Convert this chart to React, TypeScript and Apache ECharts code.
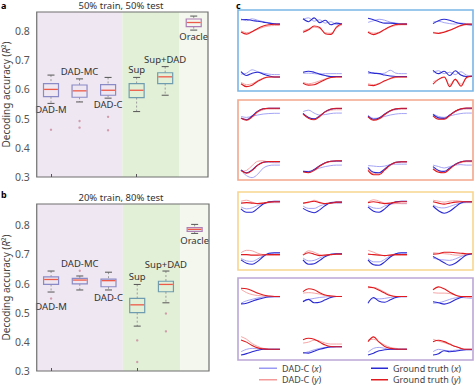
import React, { useEffect, useRef } from 'react';
import * as echarts from 'echarts';

const FONT = '"Noto Sans", "DejaVu Sans", sans-serif';

const categories = ['DAD-M', 'DAD-MC', 'DAD-C', 'Sup', 'Sup+DAD', 'Oracle'];

// [min, Q1, median, Q3, max] — panel a (50% train, 50% test)
const boxesA = [
  [0.552, 0.575, 0.600, 0.620, 0.649],
  [0.557, 0.573, 0.595, 0.615, 0.636],
  [0.570, 0.580, 0.597, 0.616, 0.641],
  [0.524, 0.572, 0.597, 0.620, 0.641],
  [0.580, 0.620, 0.643, 0.657, 0.678],
  [0.803, 0.815, 0.829, 0.841, 0.851],
];
const outliersA = [[0, 0.462], [1, 0.492], [1, 0.469], [2, 0.506], [2, 0.460]];
const labelPosA = [0.531, 0.660, 0.548, 0.668, 0.703, 0.781];

// panel b (20% train, 80% test)
const boxesB = [
  [0.571, 0.597, 0.614, 0.623, 0.643],
  [0.578, 0.599, 0.612, 0.618, 0.626],
  [0.578, 0.589, 0.610, 0.615, 0.639],
  [0.454, 0.500, 0.527, 0.549, 0.597],
  [0.534, 0.572, 0.597, 0.608, 0.643],
  [0.772, 0.779, 0.786, 0.792, 0.803],
];
const outliersB = [[0, 0.549], [1, 0.644], [3, 0.405], [3, 0.331], [4, 0.497], [4, 0.436]];
const labelPosB = [0.520, 0.669, 0.552, 0.623, 0.667, 0.747];

// region spans: [first category, last category, colour index]
const regions = [[0, 2, 0], [3, 4, 1], [5, 5, 2]];

// Panel c traces. Each mini plot: [DAD-C (x), Ground truth (x), DAD-C (y), Ground truth (y)]
const blueFrame = [
  [[0.80,0.72,0.80,0.74,0.68,0.63,0.60,0.60],[0.76,0.77,0.73,0.70,0.66,0.62,0.59,0.58],[0.30,0.22,0.27,0.36,0.45,0.50,0.52,0.52],[0.25,0.16,0.26,0.40,0.50,0.55,0.57,0.57]],
  [[0.78,0.84,0.70,0.76,0.62,0.68,0.56,0.55],[0.80,0.68,0.84,0.64,0.74,0.55,0.62,0.58],[0.30,0.38,0.45,0.40,0.22,0.20,0.42,0.56],[0.24,0.34,0.50,0.44,0.18,0.15,0.45,0.60]],
  [[0.65,0.72,0.78,0.74,0.66,0.62,0.60,0.60],[0.82,0.76,0.68,0.62,0.62,0.60,0.58,0.58],[0.28,0.20,0.24,0.34,0.46,0.52,0.55,0.55],[0.24,0.14,0.22,0.36,0.48,0.56,0.58,0.58]],
  [[0.66,0.70,0.64,0.60,0.58,0.62,0.60,0.58],[0.60,0.72,0.78,0.74,0.66,0.60,0.56,0.54],[0.24,0.22,0.26,0.33,0.42,0.50,0.55,0.56],[0.22,0.19,0.24,0.32,0.42,0.52,0.58,0.58]],
  [[0.62,0.66,0.80,0.72,0.66,0.62,0.60,0.60],[0.72,0.56,0.66,0.70,0.62,0.55,0.50,0.50],[0.28,0.18,0.22,0.35,0.45,0.49,0.50,0.50],[0.22,0.10,0.16,0.32,0.44,0.50,0.50,0.50]],
  [[0.66,0.66,0.64,0.62,0.64,0.64,0.64,0.64],[0.70,0.74,0.70,0.62,0.56,0.52,0.52,0.52],[0.28,0.22,0.26,0.34,0.42,0.48,0.50,0.50],[0.24,0.16,0.18,0.28,0.40,0.48,0.50,0.50]],
  [[0.64,0.66,0.64,0.66,0.78,0.66,0.64,0.64],[0.72,0.66,0.64,0.58,0.54,0.52,0.52,0.52],[0.22,0.18,0.24,0.34,0.42,0.48,0.50,0.50],[0.17,0.14,0.22,0.34,0.44,0.50,0.50,0.50]],
  [[0.70,0.76,0.64,0.70,0.60,0.72,0.58,0.55],[0.78,0.64,0.74,0.56,0.76,0.58,0.52,0.52],[0.30,0.40,0.48,0.18,0.42,0.20,0.45,0.52],[0.20,0.40,0.50,0.10,0.40,0.12,0.48,0.54]],
];
const orangeFrame = [
  [[0.44,0.40,0.45,0.50,0.54,0.56,0.57,0.57],[0.36,0.30,0.46,0.66,0.76,0.78,0.78,0.78],[0.38,0.32,0.44,0.62,0.72,0.75,0.75,0.75],[0.36,0.28,0.42,0.64,0.76,0.78,0.78,0.78]],
  [[0.64,0.70,0.58,0.50,0.52,0.56,0.58,0.58],[0.57,0.40,0.34,0.46,0.64,0.74,0.77,0.77],[0.52,0.38,0.34,0.48,0.62,0.70,0.72,0.72],[0.55,0.36,0.30,0.44,0.64,0.75,0.78,0.78]],
  [[0.48,0.36,0.38,0.44,0.50,0.54,0.56,0.56],[0.46,0.32,0.38,0.54,0.68,0.75,0.77,0.77],[0.44,0.30,0.36,0.52,0.66,0.72,0.74,0.74],[0.42,0.28,0.34,0.52,0.68,0.76,0.78,0.78]],
  [[0.54,0.44,0.40,0.46,0.52,0.56,0.58,0.58],[0.52,0.38,0.36,0.50,0.66,0.75,0.78,0.78],[0.48,0.34,0.34,0.48,0.64,0.72,0.75,0.75],[0.46,0.32,0.32,0.48,0.66,0.76,0.79,0.79]],
  [[0.40,0.18,0.10,0.24,0.50,0.60,0.62,0.62],[0.42,0.30,0.42,0.62,0.74,0.76,0.76,0.76],[0.36,0.40,0.60,0.78,0.80,0.74,0.72,0.72],[0.40,0.28,0.40,0.62,0.74,0.77,0.77,0.77]],
  [[0.36,0.36,0.42,0.50,0.56,0.60,0.62,0.62],[0.36,0.34,0.44,0.60,0.72,0.78,0.79,0.79],[0.34,0.32,0.42,0.58,0.70,0.76,0.77,0.77],[0.34,0.30,0.40,0.58,0.72,0.78,0.80,0.80]],
  [[0.60,0.58,0.56,0.58,0.64,0.66,0.66,0.66],[0.52,0.32,0.30,0.46,0.64,0.74,0.76,0.76],[0.46,0.26,0.26,0.44,0.62,0.72,0.74,0.74],[0.40,0.22,0.22,0.42,0.62,0.74,0.76,0.76]],
  [[0.62,0.56,0.50,0.56,0.62,0.64,0.62,0.62],[0.56,0.40,0.36,0.50,0.66,0.76,0.79,0.79],[0.50,0.36,0.34,0.48,0.64,0.72,0.76,0.76],[0.46,0.32,0.30,0.46,0.64,0.75,0.79,0.79]],
];
const yellowFrame = [
  [[0.46,0.38,0.42,0.52,0.60,0.64,0.64,0.64],[0.38,0.24,0.24,0.40,0.58,0.68,0.70,0.70],[0.70,0.74,0.66,0.60,0.62,0.64,0.66,0.66],[0.62,0.64,0.62,0.60,0.62,0.66,0.68,0.68]],
  [[0.50,0.40,0.40,0.50,0.58,0.62,0.62,0.62],[0.40,0.28,0.22,0.34,0.52,0.64,0.66,0.66],[0.60,0.64,0.74,0.66,0.60,0.62,0.64,0.64],[0.62,0.66,0.70,0.64,0.60,0.62,0.66,0.66]],
  [[0.52,0.42,0.40,0.50,0.58,0.62,0.60,0.60],[0.46,0.28,0.24,0.38,0.58,0.68,0.70,0.70],[0.66,0.76,0.70,0.62,0.58,0.60,0.60,0.60],[0.64,0.68,0.64,0.60,0.62,0.66,0.68,0.68]],
  [[0.54,0.44,0.42,0.48,0.56,0.62,0.64,0.64],[0.50,0.30,0.20,0.28,0.46,0.62,0.68,0.68],[0.74,0.70,0.66,0.70,0.72,0.70,0.66,0.66],[0.68,0.62,0.58,0.62,0.66,0.68,0.68,0.68]],
  [[0.48,0.38,0.36,0.46,0.60,0.68,0.70,0.70],[0.42,0.28,0.24,0.36,0.56,0.70,0.72,0.72],[0.72,0.82,0.80,0.70,0.64,0.62,0.62,0.62],[0.64,0.64,0.62,0.62,0.63,0.64,0.64,0.64]],
  [[0.50,0.38,0.40,0.50,0.60,0.66,0.68,0.68],[0.42,0.24,0.26,0.40,0.56,0.66,0.68,0.68],[0.64,0.80,0.74,0.64,0.62,0.64,0.66,0.66],[0.62,0.72,0.66,0.60,0.62,0.64,0.66,0.66]],
  [[0.48,0.34,0.34,0.44,0.60,0.68,0.70,0.70],[0.42,0.22,0.20,0.34,0.54,0.68,0.72,0.72],[0.82,0.74,0.64,0.60,0.62,0.62,0.62,0.62],[0.66,0.64,0.62,0.60,0.62,0.64,0.64,0.64]],
  [[0.50,0.44,0.42,0.40,0.46,0.56,0.64,0.66],[0.56,0.44,0.30,0.20,0.28,0.46,0.62,0.68],[0.72,0.70,0.68,0.66,0.62,0.62,0.64,0.66],[0.66,0.68,0.74,0.74,0.72,0.70,0.68,0.68]],
];
const purpleFrame = [
  [[0.20,0.30,0.36,0.42,0.46,0.48,0.48,0.48],[0.17,0.20,0.28,0.36,0.42,0.46,0.47,0.47],[0.78,0.64,0.56,0.52,0.50,0.49,0.48,0.48],[0.82,0.80,0.72,0.62,0.54,0.50,0.48,0.48]],
  [[0.30,0.36,0.40,0.44,0.46,0.48,0.48,0.48],[0.26,0.36,0.22,0.24,0.34,0.44,0.48,0.48],[0.62,0.64,0.62,0.58,0.52,0.50,0.48,0.48],[0.68,0.80,0.76,0.64,0.54,0.50,0.48,0.48]],
  [[0.26,0.40,0.38,0.40,0.44,0.46,0.46,0.46],[0.20,0.44,0.28,0.24,0.34,0.44,0.48,0.48],[0.84,0.86,0.78,0.66,0.54,0.48,0.48,0.48],[0.88,0.84,0.74,0.62,0.52,0.48,0.48,0.48]],
  [[0.20,0.22,0.28,0.36,0.42,0.44,0.42,0.40],[0.26,0.22,0.16,0.22,0.34,0.44,0.48,0.48],[0.64,0.62,0.62,0.60,0.54,0.48,0.44,0.44],[0.76,0.88,0.80,0.66,0.54,0.48,0.48,0.48]],
  [[0.22,0.32,0.36,0.34,0.32,0.32,0.32,0.32],[0.08,0.14,0.22,0.28,0.32,0.32,0.32,0.32],[0.85,0.74,0.56,0.44,0.36,0.33,0.32,0.32],[0.71,0.62,0.48,0.38,0.34,0.32,0.32,0.32]],
  [[0.16,0.22,0.30,0.36,0.40,0.42,0.43,0.43],[0.18,0.16,0.24,0.32,0.38,0.42,0.43,0.43],[0.58,0.62,0.70,0.66,0.58,0.54,0.54,0.54],[0.72,0.78,0.74,0.62,0.50,0.44,0.43,0.43]],
  [[0.20,0.36,0.40,0.36,0.32,0.32,0.32,0.32],[0.08,0.16,0.26,0.30,0.32,0.32,0.32,0.32],[0.70,0.74,0.62,0.50,0.40,0.36,0.34,0.34],[0.64,0.84,0.62,0.44,0.36,0.33,0.32,0.32]],
  [[0.22,0.32,0.28,0.26,0.28,0.30,0.32,0.32],[0.08,0.14,0.26,0.22,0.24,0.28,0.30,0.30],[0.74,0.66,0.60,0.52,0.44,0.36,0.32,0.32],[0.64,0.70,0.64,0.54,0.44,0.36,0.32,0.32]],
];
const traceNames = ['DAD-C (x)', 'Ground truth (x)', 'DAD-C (y)', 'Ground truth (y)'];
const timeSteps = ['0', '1', '2', '3', '4', '5', '6', '7'];

// ---------- styles ----------
const regionColors = ['#efe7f1', '#e3f0d8', '#f3f7ed'];
const boxColors = ['#8a8ac6', '#8a8ac6', '#8a8ac6', '#6f9cae', '#6f9cae', '#ad7db6'];
const traceColors = ['#9a9af4', '#2a2ad2', '#f49a9a', '#e01a1e'];
const traceWidths = [0.9, 1.1, 0.9, 1.1];
const frames = [
  { y: 10, h: 81, color: '#7ab6e6', rows: [14, 65], data: blueFrame },
  { y: 100, h: 80, color: '#f3a78c', rows: [103, 156], data: orangeFrame },
  { y: 192, h: 78, color: '#f7d68e', rows: [194, 246], data: yellowFrame },
  { y: 278, h: 82, color: '#bba6d6', rows: [284, 333], data: purpleFrame },
];
const colLefts = [241, 303, 368, 433];

export default function App() {
  const ref = useRef<HTMLDivElement>(null);
  useEffect(() => {
    if (!ref.current) return;
    const chart = echarts.init(ref.current, null, { renderer: 'svg' });

    const grids: any[] = [];
    const xAxes: any[] = [];
    const yAxes: any[] = [];
    const series: any[] = [];

    const boxPanel = (gi: number, boxes: number[][], outliers: number[][], labelPos: number[], yMax: number, top: number, width: number, height: number) => {
      grids.push({ left: 35, top, width, height, show: true, borderColor: '#6f6f6f', borderWidth: 1.2, backgroundColor: 'transparent', z: 5 });
      xAxes.push({
        gridIndex: gi, type: 'category', data: categories, boundaryGap: true, z: 6,
        axisLine: { show: false }, axisLabel: { show: false }, splitLine: { show: false },
        axisTick: { show: true, inside: true, length: 3, alignWithLabel: true, lineStyle: { color: '#555' } },
      });
      yAxes.push({
        gridIndex: gi, type: 'value', min: 0.3, max: yMax, interval: 0.1, z: 6,
        axisLine: { show: false }, splitLine: { show: false },
        axisTick: { show: false },
        axisLabel: {
          color: '#555', fontSize: 10.5, fontFamily: FONT, margin: 7,
          formatter: (v: number) => (Math.abs(v * 10 - Math.round(v * 10)) < 1e-6 ? v.toFixed(1) : ''),
        },
        name: 'Decoding accuracy ({i|R}²)', nameLocation: 'middle', nameGap: 22,
        nameTextStyle: { color: '#444', fontSize: 10, fontFamily: FONT, rich: { i: { fontStyle: 'italic', fontSize: 10, fontFamily: FONT, color: '#444' } } },
      });
      series.push({
        type: 'custom', xAxisIndex: gi, yAxisIndex: gi, z: 0, silent: true,
        data: regions, encode: { x: [0, 1] },
        renderItem: (params: any, api: any) => {
          const bw = api.size([1, 0])[0];
          const x0 = api.coord([api.value(0), 0.5])[0] - bw / 2;
          const x1 = api.coord([api.value(1), 0.5])[0] + bw / 2;
          const cs = params.coordSys;
          return { type: 'rect', shape: { x: x0, y: cs.y, width: x1 - x0, height: cs.height }, style: { fill: regionColors[api.value(2)] } };
        },
      });
      series.push({
        type: 'custom', xAxisIndex: gi, yAxisIndex: gi, z: 3, silent: true,
        data: boxes.map((b, i) => [i, ...b]), encode: { x: 0, y: [1, 2, 3, 4, 5] },
        renderItem: (params: any, api: any) => {
          const i = api.value(0);
          const x = api.coord([i, api.value(1)])[0];
          const yMin = api.coord([i, api.value(1)])[1];
          const yQ1 = api.coord([i, api.value(2)])[1];
          const yMed = api.coord([i, api.value(3)])[1];
          const yQ3 = api.coord([i, api.value(4)])[1];
          const yMx = api.coord([i, api.value(5)])[1];
          const bw = 15, cw = 7;
          const dash = { stroke: '#9a9a9a', lineWidth: 1, lineDash: [2, 2] };
          const cap = { stroke: '#555', lineWidth: 1 };
          return {
            type: 'group', children: [
              { type: 'line', shape: { x1: x, y1: yMx, x2: x, y2: yQ3 }, style: dash },
              { type: 'line', shape: { x1: x, y1: yQ1, x2: x, y2: yMin }, style: dash },
              { type: 'line', shape: { x1: x - cw / 2, y1: yMx, x2: x + cw / 2, y2: yMx }, style: cap },
              { type: 'line', shape: { x1: x - cw / 2, y1: yMin, x2: x + cw / 2, y2: yMin }, style: cap },
              { type: 'rect', shape: { x: x - bw / 2, y: yQ3, width: bw, height: yQ1 - yQ3 }, style: { fill: 'none', stroke: boxColors[i], lineWidth: 1.2 } },
              { type: 'line', shape: { x1: x - bw / 2 + 0.6, y1: yMed, x2: x + bw / 2 - 0.6, y2: yMed }, style: { stroke: '#ee5a48', lineWidth: 1.3 } },
            ],
          };
        },
      });
      series.push({
        type: 'scatter', xAxisIndex: gi, yAxisIndex: gi, z: 3, silent: true,
        data: outliers, symbolSize: 2.4, itemStyle: { color: '#c98a9c' },
      });
      series.push({
        type: 'custom', xAxisIndex: gi, yAxisIndex: gi, z: 4, silent: true,
        data: labelPos.map((v, i) => [i, v]), encode: { x: 0, y: 1 },
        renderItem: (params: any, api: any) => {
          const i = api.value(0);
          const p = api.coord([i, api.value(1)]);
          return {
            type: 'text', x: p[0], y: p[1],
            style: { text: categories[i], fill: '#333', fontSize: 9.5, fontFamily: FONT, align: 'center', verticalAlign: 'middle', textAlign: 'center', textVerticalAlign: 'middle' },
          };
        },
      });
    };

    boxPanel(0, boxesA, outliersA, labelPosA, 0.865, 12, 173, 165);
    boxPanel(1, boxesB, outliersB, labelPosB, 0.873, 204, 174, 167);

    let gi = 2;
    frames.forEach((f) => {
      f.data.forEach((panel, pi) => {
        const row = Math.floor(pi / 4);
        const col = pi % 4;
        grids.push({ left: colLefts[col], top: f.rows[row], width: 39, height: 24, show: false });
        xAxes.push({ gridIndex: gi, type: 'category', data: timeSteps, boundaryGap: false, show: false });
        yAxes.push({ gridIndex: gi, type: 'value', min: 0, max: 1, show: false });
        panel.forEach((vals, ti) => {
          series.push({
            type: 'line', name: traceNames[ti], xAxisIndex: gi, yAxisIndex: gi,
            data: vals, smooth: 0.35, symbol: 'none', silent: true, z: 2 + (ti % 2),
            color: traceColors[ti],
            lineStyle: { color: traceColors[ti], width: traceWidths[ti] },
          });
        });
        gi += 1;
      });
    });

    const legendFormatter = (name: string) => name.replace(/\((x|y)\)/, '({i|$1})');
    const legendText = {
      color: '#444', fontSize: 9, fontFamily: FONT, lineHeight: 11.5,
      rich: { i: { fontStyle: 'italic', fontSize: 9, fontFamily: FONT, color: '#444', lineHeight: 11.5 } },
    };

    const graphics: any[] = [
      { type: 'text', x: 1, y: 1, style: { text: 'a', fill: '#000', fontSize: 9, fontWeight: 'bold', fontFamily: FONT, verticalAlign: 'top', textVerticalAlign: 'top' } },
      { type: 'text', x: 1, y: 190, style: { text: 'b', fill: '#000', fontSize: 9, fontWeight: 'bold', fontFamily: FONT, verticalAlign: 'top', textVerticalAlign: 'top' } },
      { type: 'text', x: 236, y: 1, style: { text: 'c', fill: '#000', fontSize: 9, fontWeight: 'bold', fontFamily: FONT, verticalAlign: 'top', textVerticalAlign: 'top' } },
      { type: 'text', x: 121, y: 5.5, style: { text: '50% train, 50% test', fill: '#333', fontSize: 9.5, fontFamily: FONT, align: 'center', verticalAlign: 'middle', textAlign: 'center', textVerticalAlign: 'middle' } },
      { type: 'text', x: 121, y: 197, style: { text: '20% train, 80% test', fill: '#333', fontSize: 9.5, fontFamily: FONT, align: 'center', verticalAlign: 'middle', textAlign: 'center', textVerticalAlign: 'middle' } },
      ...frames.map((f) => ({ type: 'rect', shape: { x: 238, y: f.y, width: 235, height: f.h }, style: { fill: 'none', stroke: f.color, lineWidth: 1.6 } })),
    ];

    chart.setOption({
      animation: false,
      grid: grids,
      xAxis: xAxes,
      yAxis: yAxes,
      series,
      legend: [
        { data: ['DAD-C (x)', 'DAD-C (y)'], left: 259, top: 362.5, orient: 'vertical', icon: 'rect', itemWidth: 18, itemHeight: 1.5, itemGap: 0, padding: 0, selectedMode: false, formatter: legendFormatter, textStyle: legendText },
        { data: ['Ground truth (x)', 'Ground truth (y)'], left: 371, top: 362.5, orient: 'vertical', icon: 'rect', itemWidth: 17, itemHeight: 1.5, itemGap: 0, padding: 0, selectedMode: false, formatter: legendFormatter, textStyle: legendText },
      ],
      graphic: graphics,
    });
    return () => chart.dispose();
  }, []);
  return <div ref={ref} style={{ position: 'absolute', left: 0, top: 0, width: 474, height: 387 }} />;
}
